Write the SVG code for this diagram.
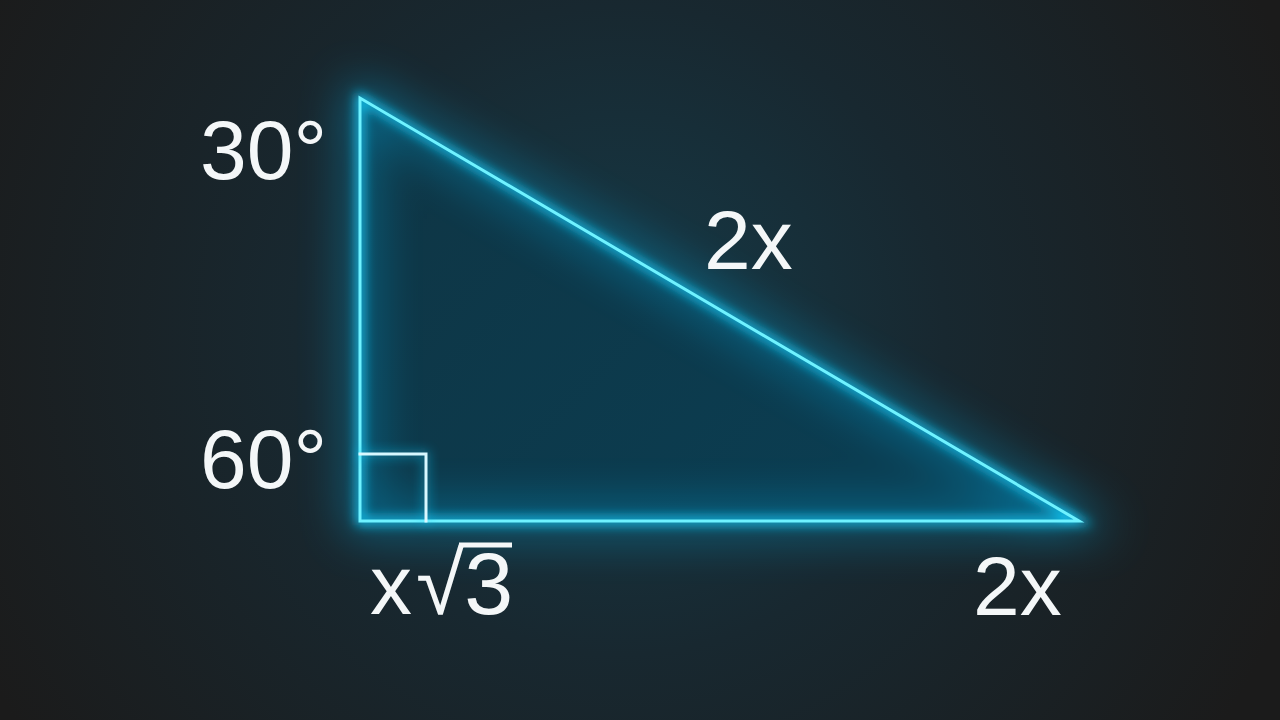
<svg xmlns="http://www.w3.org/2000/svg" width="1280" height="720" viewBox="0 0 1280 720">
<defs>
<radialGradient id="bg" cx="620" cy="330" r="720" gradientUnits="userSpaceOnUse">
<stop offset="0" stop-color="#153a48"/>
<stop offset="0.45" stop-color="#182830"/>
<stop offset="1" stop-color="#1b1b1b"/>
</radialGradient>
<linearGradient id="tri" x1="360" y1="100" x2="800" y2="520" gradientUnits="userSpaceOnUse">
<stop offset="0" stop-color="#0f3544"/>
<stop offset="1" stop-color="#0b3d51"/>
</linearGradient>
<filter id="glow" x="-20%" y="-20%" width="140%" height="140%">
<feGaussianBlur stdDeviation="6"/>
</filter>
<filter id="halo" x="-30%" y="-30%" width="160%" height="160%">
<feGaussianBlur stdDeviation="24"/>
</filter>
<style>
.lbl{font-family:"Liberation Sans",Arial,sans-serif;font-size:84px;fill:#f4f7f8}
.edge{fill:none;stroke-linejoin:miter;stroke-linecap:square}
</style>
</defs>
<rect width="1280" height="720" fill="url(#bg)"/>
<g id="triangle">
<polygon points="360,98 360,521 1079,521" fill="url(#tri)"/>
<polygon class="edge" points="360,98 360,521 1079,521" stroke="#00b4ee" stroke-width="20" opacity="0.6" filter="url(#halo)"/>
<polygon class="edge" points="360,98 360,521 1079,521" stroke="#19c8f5" stroke-width="8" filter="url(#glow)"/>
<polygon class="edge" points="360,98 360,521 1079,521" stroke="#6ff2ff" stroke-width="3"/>
</g>
<g id="right-angle">
<polyline class="edge" points="360,454 426,454 426,521" stroke="#19c8f5" stroke-width="5" filter="url(#glow)" opacity="0.6"/>
<polyline class="edge" points="360,454 426,454 426,521" stroke="#d8f8ff" stroke-width="3"/>
</g>
<g id="labels">
<text class="lbl" x="200" y="179">30°</text>
<text class="lbl" x="200" y="488">60°</text>
<text class="lbl" x="370" y="614">x<tspan font-size="88px" dx="4">√3</tspan></text>
<line x1="459" y1="545" x2="512" y2="545" stroke="#f4f7f8" stroke-width="5"/>
<text class="lbl" x="704" y="269">2x</text>
<text class="lbl" x="973" y="615">2x</text>
</g>
</svg>
